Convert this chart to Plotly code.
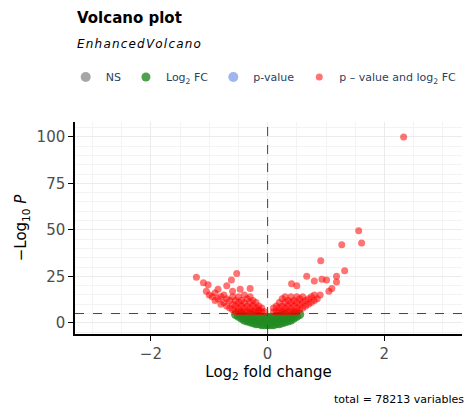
import plotly.graph_objects as go

# points (log2 fold change, -log10 p)
red_x = [-1.05, -1.0, -0.95, -0.9, -0.9, -0.85, -0.8, -0.8, -0.75, -0.75, -0.7, -0.7, -0.65, -0.65,
         -0.6, -0.6, -0.6, -0.55, -0.55, -0.55, -0.5, -0.5, -0.5, -0.5, -0.45, -0.45, -0.45,
         -0.4, -0.4, -0.4, -0.4, -0.35, -0.35, -0.35, -0.3, -0.3, -0.3, -0.3, -0.25, -0.25, -0.25,
         -0.2, -0.2, -0.2, -0.15, -0.15, -0.15, -0.1, -0.1, -0.05,
         -1.22, -1.1, -1.02, -0.7, -0.62, -0.53, -0.47, -0.3, -0.6, -0.85,
         0.1, 0.1, 0.15, 0.15, 0.2, 0.2, 0.2, 0.25, 0.25, 0.25, 0.3, 0.3, 0.3, 0.3,
         0.35, 0.35, 0.35, 0.4, 0.4, 0.4, 0.4, 0.45, 0.45, 0.45, 0.5, 0.5, 0.5, 0.5,
         0.55, 0.55, 0.55, 0.6, 0.6, 0.6, 0.65, 0.65, 0.7, 0.7, 0.75, 0.75, 0.8, 0.8, 0.85, 0.9,
         0.67, 0.91, 1.27, 1.56, 1.61, 1.32, 1.18, 1.01, 0.93, 1.18, 0.41, 0.5, 0.8, 2.33, 1.1, 1.05]
red_y = [17, 15, 14, 16, 12, 13, 10, 14, 11, 15, 9, 13, 8, 12,
         7, 10, 14, 6, 9, 12, 6, 8, 11, 14, 6, 9, 12,
         6, 8, 11, 15, 6, 9, 13, 6, 8, 11, 14, 6, 9, 12,
         6, 8, 11, 6, 9, 7, 6, 8, 6,
         24.5, 21.5, 20.5, 20, 23, 26.5, 18, 18.5, 17, 18,
         6, 8, 6, 9, 6, 8, 11, 6, 9, 13, 6, 8, 11, 14,
         6, 9, 12, 6, 8, 11, 14, 6, 9, 12, 6, 8, 11, 14,
         7, 10, 13, 8, 11, 14, 9, 12, 10, 13, 11, 14, 12, 15, 13, 15,
         25, 33.4, 42, 49.5, 43, 28, 25, 23, 23.5, 22, 21, 20, 22.5, 100, 18.5, 17]
green_x = [-0.55, -0.5, -0.45, -0.45, -0.4, -0.4, -0.35, -0.35, -0.3, -0.3, -0.3, -0.25, -0.25, -0.25,
           -0.2, -0.2, -0.2, -0.15, -0.15, -0.15, -0.1, -0.1, -0.1, -0.05, -0.05, -0.05, 0, 0, 0,
           0.05, 0.05, 0.05, 0.1, 0.1, 0.1, 0.15, 0.15, 0.15, 0.2, 0.2, 0.2, 0.25, 0.25, 0.25,
           0.3, 0.3, 0.3, 0.35, 0.35, 0.4, 0.4, 0.45, 0.45, 0.5, 0.55]
green_y = [4.5, 3.5, 2.5, 4.5, 1.5, 3.5, 1, 3, 0.5, 2.5, 4.5, 0, 2, 4,
           -0.5, 1.5, 3.5, -0.5, 1.5, 3.5, -1, 1, 3, -1, 1, 3, -1, 1, 3,
           -1, 1, 3, -1, 1, 3, -0.5, 1.5, 3.5, -0.5, 1.5, 3.5, 0, 2, 4,
           0.5, 2.5, 4.5, 1, 3, 1.5, 3.5, 2.5, 4.5, 3.5, 4.5]
total_variables = 78213

fig = go.Figure()
fig.add_trace(go.Scatter(x=[None], y=[None], mode="markers", name="NS",
                         marker=dict(color="grey", size=10, opacity=0.7)))
fig.add_trace(go.Scatter(x=green_x, y=green_y, mode="markers", name="Log<sub>2</sub> FC",
                         marker=dict(color="forestgreen", size=9, opacity=0.8)))
fig.add_trace(go.Scatter(x=[None], y=[None], mode="markers", name="p-value",
                         marker=dict(color="royalblue", size=10, opacity=0.5)))
fig.add_trace(go.Scatter(x=red_x, y=red_y, mode="markers", name="p \u2013 value and log<sub>2</sub> FC",
                         marker=dict(color="red", size=7, opacity=0.55)))

fig.add_vline(x=0, line=dict(color="#444", width=1, dash="dash"))
fig.add_hline(y=5, line=dict(color="#444", width=1, dash="dash"))

axis_common = dict(showline=True, linecolor="black", linewidth=1.5, ticks="outside",
                   tickcolor="black", gridcolor="#ebebeb", zeroline=False,
                   tickfont=dict(size=15, color="#4d4d4d"),
                   minor=dict(showgrid=True, gridcolor="#f3f3f3"))
fig.update_xaxes(range=[-3.3, 3.33], dtick=2, title=dict(text="Log<sub>2</sub> fold change",
                 font=dict(size=15, color="black"), standoff=4), **axis_common)
fig.update_yaxes(range=[-6, 108], dtick=25, title=dict(text="\u2212Log<sub>10</sub> <i>P</i>",
                 font=dict(size=15, color="black"), standoff=6), **axis_common)

# page body has an 8px margin, so the figure is a bit smaller than the window
fig.update_layout(
    width=458, height=400, plot_bgcolor="white", paper_bgcolor="white",
    font=dict(family="DejaVu Sans"),
    margin=dict(l=67, r=4, t=114, b=74, autoexpand=False),
    legend=dict(orientation="h", x=-0.024, xanchor="left", y=1.212, yanchor="middle",
                font=dict(size=11), itemwidth=30, tracegroupgap=0),
    showlegend=True,
)
fig.add_annotation(text="<b>Volcano plot</b>", xref="paper", yref="paper", x=0, y=1.49,
                   xanchor="left", yanchor="middle", showarrow=False,
                   font=dict(size=15, color="black"))
fig.add_annotation(text="<i>E\u200an\u200ah\u200aa\u200an\u200ac\u200ae\u200ad\u200aV\u200ao\u200al\u200ac\u200aa\u200an\u200ao</i>",
                   xref="paper", yref="paper", x=0, y=1.368, xanchor="left", yanchor="middle",
                   showarrow=False, font=dict(size=12, color="black"))
fig.add_annotation(text=f"total = {total_variables} variables", xref="paper", yref="paper",
                   x=1.01, y=-0.311, xanchor="right", yanchor="middle", showarrow=False,
                   font=dict(size=11, color="black"))

fig.write_html("out.html")
